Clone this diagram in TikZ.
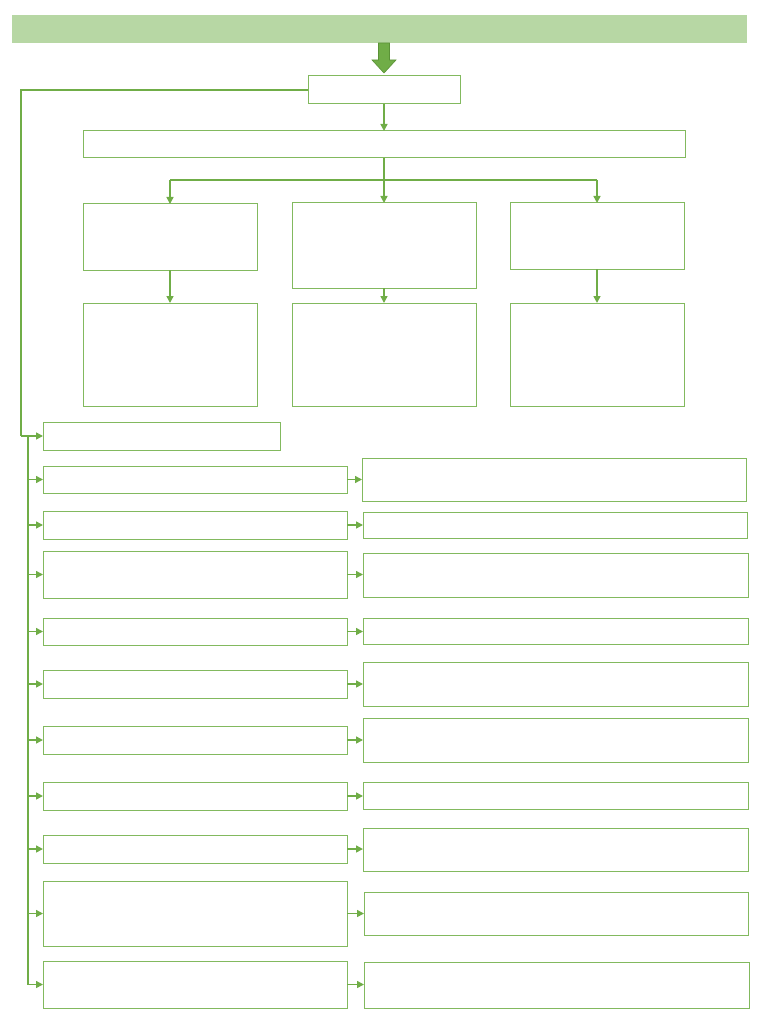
\documentclass[tikz,border=0pt]{standalone}
\usetikzlibrary{arrows.meta}
\definecolor{gline}{HTML}{70AD47}
\definecolor{gbox}{HTML}{82B95E}
\definecolor{gbar}{HTML}{B7D7A4}
\definecolor{gdark}{HTML}{5A9236}
\newcommand{\mkbox}[6][bx]{%
  \pgfmathsetmacro{\mbcx}{(#3+#5)/2}%
  \pgfmathsetmacro{\mbcy}{(#4+#6)/2}%
  \pgfmathsetmacro{\mbw}{abs(#5-#3)}%
  \pgfmathsetmacro{\mbh}{abs(#6-#4)}%
  \node[#1,minimum width=\mbw pt,minimum height=\mbh pt] (#2) at (\mbcx,\mbcy) {};}
\begin{document}
\begin{tikzpicture}[x=1pt,y=-1pt,
  bx/.style={draw=gbox,line width=1pt,fill=white,inner sep=0pt,outer sep=0pt,rectangle},
  bar/.style={fill=gbar,inner sep=0pt,outer sep=0pt,rectangle},
  conn/.style={draw=gline,line width=1.5pt,-{Triangle[length=7pt,width=7pt]}},
  plain/.style={draw=gline,line width=1.5pt}]
\useasboundingbox (0,0) rectangle (768,1024);
% top bar
\mkbox[bar]{top}{12}{15}{747}{43}
% boxes
\mkbox{A}{308}{76}{460}{104}
\mkbox{B}{83}{131}{685}{158}
\mkbox{C1}{83}{204}{257}{270}
\mkbox{C2}{292}{203}{476}{288}
\mkbox{C3}{510}{203}{684}{269}
\mkbox{D1}{83}{303}{257}{406}
\mkbox{D2}{292}{303}{476}{406}
\mkbox{D3}{510}{303}{684}{406}
\mkbox{E}{43}{422}{280}{450}
% big arrow
\draw[gdark,fill=gline,line width=0.6pt] (top.south -| A.north) ++(-5.5,0) -- ++(11,0) -- ++(0,17) -- ++(6.5,0) -- ++(-12,13) -- ++(-12,-13) -- ++(6.5,0) -- cycle;
% connectors top
\draw[conn] (A.south) -- (B.north);
\draw[plain] (B.south) -- ++(0,22) coordinate (split);
\draw[plain] (C1.north |- split) -- (C3.north |- split);
\draw[conn] (C1.north |- split) -- (C1.north);
\draw[conn] (split) -- (C2.north);
\draw[conn] (C3.north |- split) -- (C3.north);
\draw[conn] (C1.south) -- (D1.north);
\draw[conn] (C2.south) -- (D2.north);
\draw[conn] (C3.south) -- (D3.north);
% left loop
\coordinate (loopx) at (21,0);
\coordinate (spine) at (28,0);
\draw[plain] (A.west) -- (A.west -| loopx) -- (E.west -| loopx);
\draw[conn] (E.west -| loopx) -- (E.west);
% rows
\foreach \i/\lt/\lb/\rt/\rb/\rl/\rr in {
  1/466/493/458/501/362/746,
  2/511/539/512/538/363/747,
  3/551/598/553/597/363/748,
  4/618/645/618/644/363/748,
  5/670/698/662/706/363/748,
  6/726/754/718/762/363/748,
  7/782/810/782/809/363/748,
  8/835/863/828/871/363/748,
  9/881/946/892/935/364/748,
  10/961/1008/962/1008/364/749}{
  \mkbox{L\i}{43}{\lt}{347}{\lb}
  \mkbox{R\i}{\rl}{\rt}{\rr}{\rb}
  \draw[conn] (L\i.west -| spine) -- (L\i.west);
  \draw[conn] (L\i.east) -- (L\i.east -| R\i.west);
}
\draw[plain] (E.west -| spine) -- (L10.west -| spine);
\end{tikzpicture}
\end{document}
